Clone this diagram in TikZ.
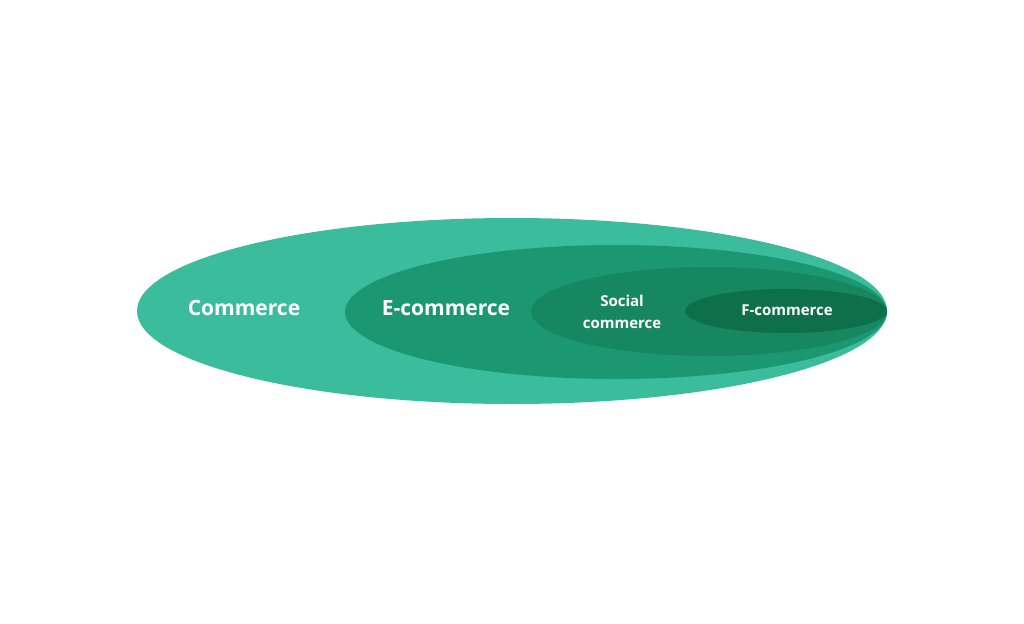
\documentclass[tikz,border=0pt]{standalone}
\usepackage{fontspec}
\setmainfont{Open Sans}
\begin{document}
\begin{tikzpicture}[x=1pt,y=-1pt,
  lbl/.style={text=white,font=\bfseries,align=center}]
\useasboundingbox[fill=white] (0,0) rectangle (1024,623);
\fill[fill={rgb,255:red,59;green,188;blue,157}] (512,311) ellipse [x radius=375,y radius=93];
\fill[fill={rgb,255:red,27;green,152;blue,114}] (616,312) ellipse [x radius=271,y radius=67];
\fill[fill={rgb,255:red,22;green,135;blue,96}] (709,311.5) ellipse [x radius=178,y radius=44.5];
\fill[fill={rgb,255:red,14;green,112;blue,74}] (786,311) ellipse [x radius=101,y radius=22];
\node[lbl,font=\bfseries\fontsize{21}{24}\selectfont] (c) at (244,308) {Commerce};
\node[lbl,font=\bfseries\fontsize{21}{24}\selectfont] (e) at (446,308) {E-commerce};
\node[lbl,font=\bfseries\fontsize{15}{22}\selectfont] (s) at (622,312) {Social\\commerce};
\node[lbl,font=\bfseries\fontsize{15}{18}\selectfont] (f) at (787,310) {F-commerce};
\end{tikzpicture}
\end{document}
